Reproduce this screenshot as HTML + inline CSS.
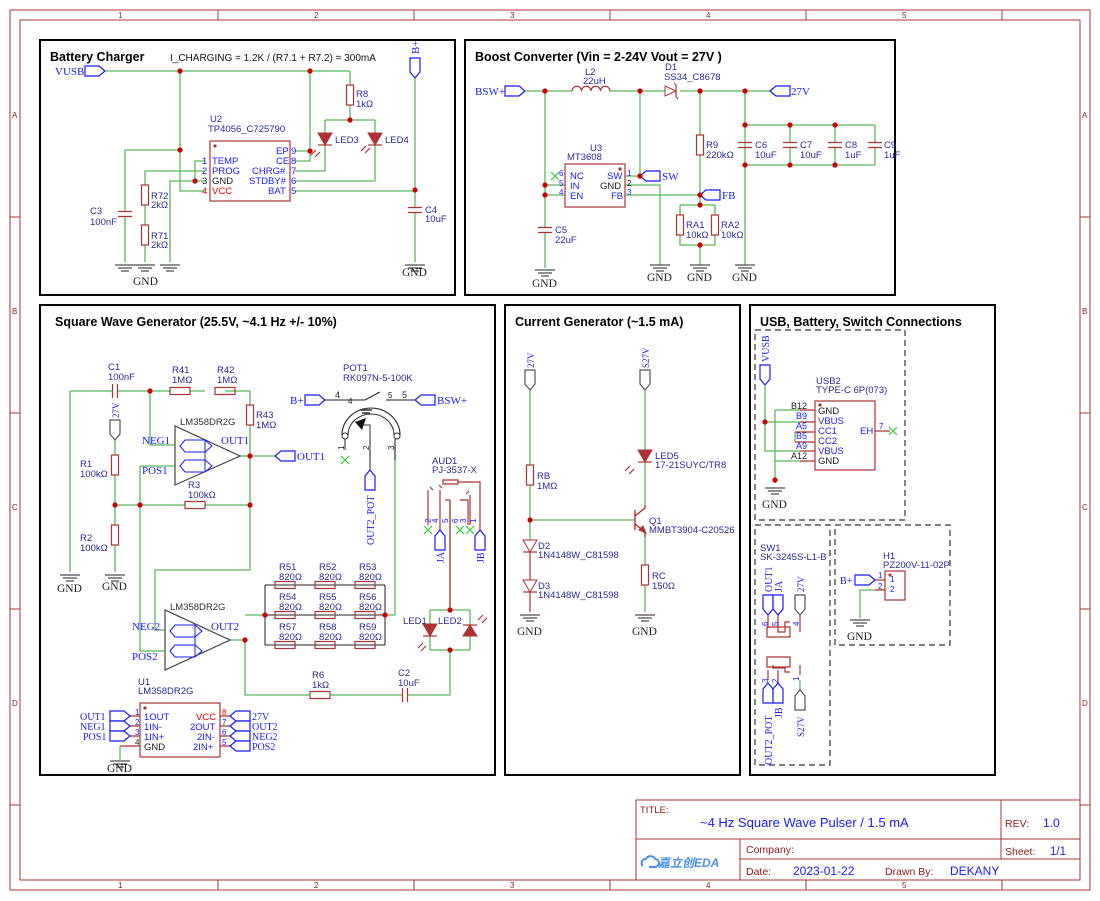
<!DOCTYPE html>
<html><head><meta charset="utf-8"><style>
html,body{margin:0;padding:0;background:#fff}
svg{display:block}
.w{stroke:#5cb85c;stroke-width:1.3;fill:none}
.k{stroke:#222;stroke-width:1;fill:none}
.r{stroke:#a33;stroke-width:1.2;fill:none}
.fr{fill:#a33;stroke:#a33}
.p{stroke:#1a1aff;stroke-width:1.2;fill:#fff}
.pg{stroke:#555;stroke-width:1.2;fill:#fff}
.bx{stroke:#000;stroke-width:2;fill:none}
.ds{stroke:#333;stroke-width:1.2;fill:none;stroke-dasharray:6 4}
text{font-family:"Liberation Sans","Noto Sans CJK SC",sans-serif;font-size:9.5px;fill:#2a2a9a}
.t{font-weight:bold;font-size:12.5px;fill:#000}
.s{font-family:"Liberation Serif",serif;font-size:11px;fill:#1a1aff}
.gn{font-family:"Liberation Serif",serif;font-size:11.5px;fill:#222}
.b{fill:#1a1aff}
.rd{fill:#e00}
.bk{fill:#222}
.fm{fill:#8b1a1a;font-size:8px}
.tb{fill:#8b1a1a;font-size:10px}
</style></head><body>
<svg width="1100" height="901" viewBox="0 0 1100 901" xmlns="http://www.w3.org/2000/svg">
<defs>
<rect id="rv" x="-3.5" y="-10" width="7" height="20" class="r"/>
<rect id="rh" x="-10" y="-3.5" width="20" height="7" class="r"/>
<g id="gd"><path d="M-10 0H10M-7 3H7M-4 6H4" class="k"/></g>
<circle id="j" r="2.6" fill="#c00"/>
<path id="pr" d="M0 -5H14L20 0L14 5H0Z" class="p"/>
<path id="pl" d="M20 -5H6L0 0L6 5H20Z" class="p"/>
<path id="pd" d="M-5 0V14L0 20L5 14V0Z" class="p"/>
<path id="pu" d="M-5 20V6L0 0L5 6V20Z" class="p"/>
<path id="pdg" d="M-5 0V14L0 20L5 14V0Z" class="pg"/>
<path id="pug" d="M-5 20V6L0 0L5 6V20Z" class="pg"/>
<g id="cv"><path d="M-7 -2.5H7M-7 2.5H7" class="r"/></g>
<g id="ch"><path d="M-2.5 -7V7M2.5 -7V7" class="r"/></g>
<g id="dd"><path d="M-7 -6H7L0 6Z" class="fr"/><path d="M-7 6H7" class="r"/></g>
<g id="do"><path d="M-7 -6H7L0 6Z" fill="#fff" stroke="#a33"/><path d="M-7 6H7" class="r"/></g>
<g id="x"><path d="M-4 -4L4 4M-4 4L4 -4" stroke="#3c3" stroke-width="1.2"/></g>
</defs>

<!-- frame -->
<rect x="10" y="10" width="1080" height="880" fill="none" stroke="#a33" stroke-width="1"/>
<rect x="20" y="20" width="1060" height="860" fill="none" stroke="#a33" stroke-width="1"/>
<path d="M218 10V20M414 10V20M610 10V20M806 10V20M1002 10V20M218 880V890M414 880V890M610 880V890M806 880V890M1002 880V890M10 217H20M10 413H20M10 609H20M10 805H20M1080 217H1090M1080 413H1090M1080 609H1090M1080 805H1090" stroke="#a33"/>
<g class="fm" font-size="8">
<text x="118" y="18" class="fm">1</text><text x="314" y="18" class="fm">2</text><text x="510" y="18" class="fm">3</text><text x="706" y="18" class="fm">4</text><text x="902" y="18" class="fm">5</text>
<text x="118" y="888" class="fm">1</text><text x="314" y="888" class="fm">2</text><text x="510" y="888" class="fm">3</text><text x="706" y="888" class="fm">4</text><text x="902" y="888" class="fm">5</text>
<text x="12" y="118" class="fm">A</text><text x="12" y="314" class="fm">B</text><text x="12" y="510" class="fm">C</text><text x="12" y="706" class="fm">D</text>
<text x="1082" y="118" class="fm">A</text><text x="1082" y="314" class="fm">B</text><text x="1082" y="510" class="fm">C</text><text x="1082" y="706" class="fm">D</text>
</g>

<!-- panels -->
<rect x="40" y="40" width="415" height="255" class="bx"/>
<rect x="465" y="40" width="430" height="255" class="bx"/>
<rect x="40" y="305" width="455" height="470" class="bx"/>
<rect x="505" y="305" width="235" height="470" class="bx"/>
<rect x="750" y="305" width="245" height="470" class="bx"/>

<!-- ===== Battery charger ===== -->
<text x="50" y="61" class="t">Battery Charger</text>
<text x="170" y="61" style="font-size:10px;fill:#111">I_CHARGING = 1.2K / (R7.1 + R7.2) = 300mA</text>
<text x="55" y="75" class="s">VUSB</text><use href="#pr" x="85" y="71"/>
<path class="w" d="M105 71H350M180 71V191H205M180 150H125V211M125 217V262M205 171H145V185M145 205V225M145 245V262M205 161H195V181M205 181H170V262M310 71V161H295M295 151H310M295 171H325V145M295 181H375V145M295 191H415M415 78V207M415 213V262M350 71V85M350 105V120M325 120H375M325 120V133M375 120V133"/>
<use href="#rv" x="350" y="95"/><text x="356" y="97">R8</text><text x="356" y="107">1kΩ</text>
<use href="#dd" x="325" y="139"/><use href="#dd" x="375" y="139"/>
<path d="M316 150l-5 5M320 152l-5 5M366 146l-5 5M370 148l-5 5" class="r"/>
<text x="335" y="143">LED3</text><text x="385" y="143">LED4</text>
<rect x="210" y="141" width="80" height="60" class="r"/><circle cx="215" cy="146" r="1.6" fill="#a33"/>
<text x="210" y="122">U2</text><text x="208" y="132">TP4056_C725790</text>
<g class="b"><text x="202" y="164" class="b">1</text><text x="202" y="174" class="b">2</text><text x="212" y="164" class="b">TEMP</text><text x="212" y="174" class="b">PROG</text><text x="212" y="194" class="rd">VCC</text>
<text x="276" y="154" class="b">EP</text><text x="276" y="164" class="b">CE</text><text x="252" y="174" class="b">CHRG#</text><text x="249" y="184" class="b">STDBY#</text><text x="268" y="194" class="b">BAT</text>
<text x="291" y="154" class="b">9</text><text x="291" y="164" class="b">8</text><text x="291" y="174" class="b">7</text><text x="291" y="184" class="b">6</text><text x="291" y="194" class="b">5</text></g>
<text x="202" y="184" class="bk">3</text><text x="212" y="184" class="bk">GND</text><text x="202" y="194" class="rd">4</text>
<use href="#cv" x="125" y="214"/><text x="90" y="214">C3</text><text x="90" y="225">100nF</text>
<use href="#rv" x="145" y="195"/><text x="151" y="199">R72</text><text x="151" y="208">2kΩ</text>
<use href="#rv" x="145" y="235"/><text x="151" y="239">R71</text><text x="151" y="248">2kΩ</text>
<use href="#cv" x="415" y="210"/><text x="425" y="213">C4</text><text x="425" y="222">10uF</text>
<use href="#gd" x="125" y="265"/><use href="#gd" x="145" y="265"/><use href="#gd" x="170" y="265"/><use href="#gd" x="415" y="265"/>
<text x="133" y="285" class="gn">GND</text><text x="402" y="276" class="gn">GND</text>
<use href="#pd" x="415" y="58"/><text transform="translate(419,54) rotate(-90)" class="s">B+</text>
<use href="#j" x="180" y="71"/><use href="#j" x="310" y="71"/><use href="#j" x="350" y="120"/><use href="#j" x="180" y="150"/><use href="#j" x="195" y="181"/><use href="#j" x="310" y="151"/><use href="#j" x="415" y="190"/>

<!-- ===== Boost converter ===== -->
<text x="475" y="61" class="t">Boost Converter (Vin = 2-24V Vout = 27V )</text>
<text x="475" y="95" class="s">BSW+</text><use href="#pr" x="505" y="91"/>
<path class="w" d="M525 91H572M610 91H665M680 91H770M545 91V227M545 233V268M545 185H565M545 195H565M640 91V176H625M625 185H660V265M625 195H700M700 91V135M700 155V205M680 205H715M680 205V215M715 205V215M680 235V245H715V235M700 245V265M745 91V265M745 125H875M745 165H875M745 125V142M745 148V165M790 125V142M790 148V165M835 125V142M835 148V165M875 125V142M875 148V165"/>
<path d="M572 91a4.75 4.75 0 0 1 9.5 0a4.75 4.75 0 0 1 9.5 0a4.75 4.75 0 0 1 9.5 0a4.75 4.75 0 0 1 9.5 0" class="r"/>
<text x="585" y="75">L2</text><text x="583" y="84">22uH</text>
<path d="M665 86V96L676 91Z" fill="#fff" stroke="#a33"/><path d="M676 85V97M676 85l-2 -2M676 97l2 2" class="r"/>
<text x="665" y="70">D1</text><text x="664" y="80">SS34_C8678</text>
<use href="#pl" x="770" y="91"/><text x="791" y="95" class="s">27V</text>
<rect x="565" y="164" width="60" height="43" class="r"/><circle cx="620" cy="169" r="1.6" fill="#a33"/>
<text x="590" y="151">U3</text><text x="567" y="160">MT3608</text>
<text x="570" y="179" class="b">NC</text><text x="570" y="189" class="b">IN</text><text x="570" y="199" class="b">EN</text>
<text x="607" y="179" class="b">SW</text><text x="600" y="189" class="bk">GND</text><text x="611" y="199" class="b">FB</text>
<text x="559" y="176" class="b" style="font-size:8px">6</text><text x="559" y="186" class="b" style="font-size:8px">5</text><text x="559" y="195" class="b" style="font-size:8px">4</text>
<text x="627" y="176" class="b" style="font-size:8px">1</text><text x="627" y="186" class="bk" style="font-size:8px">2</text><text x="627" y="195" class="b" style="font-size:8px">3</text>
<use href="#x" x="555" y="176"/>
<use href="#pl" x="640" y="176"/><text x="662" y="180" class="s">SW</text>
<use href="#pl" x="700" y="195"/><text x="722" y="199" class="s">FB</text>
<use href="#cv" x="545" y="230"/><text x="555" y="233">C5</text><text x="555" y="243">22uF</text>
<use href="#rv" x="700" y="145"/><text x="706" y="148">R9</text><text x="706" y="158">220kΩ</text>
<use href="#rv" x="680" y="225"/><text x="686" y="228">RA1</text><text x="686" y="238">10kΩ</text>
<use href="#rv" x="715" y="225"/><text x="721" y="228">RA2</text><text x="721" y="238">10kΩ</text>
<use href="#cv" x="745" y="145"/><use href="#cv" x="790" y="145"/><use href="#cv" x="835" y="145"/><use href="#cv" x="875" y="145"/>
<text x="755" y="148">C6</text><text x="755" y="158">10uF</text><text x="800" y="148">C7</text><text x="800" y="158">10uF</text><text x="845" y="148">C8</text><text x="845" y="158">1uF</text><text x="884" y="148">C9</text><text x="884" y="158">1uF</text>
<use href="#gd" x="545" y="270"/><use href="#gd" x="660" y="265"/><use href="#gd" x="700" y="265"/><use href="#gd" x="745" y="265"/>
<text x="532" y="287" class="gn">GND</text><text x="647" y="281" class="gn">GND</text><text x="687" y="281" class="gn">GND</text><text x="732" y="281" class="gn">GND</text>
<use href="#j" x="545" y="91"/><use href="#j" x="640" y="91"/><use href="#j" x="700" y="91"/><use href="#j" x="745" y="91"/><use href="#j" x="545" y="185"/><use href="#j" x="545" y="195"/><use href="#j" x="640" y="176"/><use href="#j" x="700" y="195"/><use href="#j" x="700" y="205"/><use href="#j" x="700" y="245"/><use href="#j" x="745" y="125"/><use href="#j" x="790" y="125"/><use href="#j" x="835" y="125"/><use href="#j" x="745" y="165"/><use href="#j" x="790" y="165"/><use href="#j" x="835" y="165"/>

<!-- ===== Square wave ===== -->
<text x="55" y="326" class="t">Square Wave Generator (25.5V, ~4.1 Hz +/- 10%)</text>
<path class="w" d="M70 391V572M70 391H113M117 391H170M190 391H205M225 391H250V405M250 425V570H155V630H165M240 456H275M150 391V445H175M140 466H175M140 466V651H165M115 440V455M115 475V525M115 545V572M115 505H185M205 505H250M230 640H245V695H310M330 695H403M407 695H450V650M245 615H265M385 615H395V445M450 610V500"/>
<path class="k" d="M265 585H385M265 615H385M265 645H385M265 585V645M385 585V645"/>
<use href="#ch" x="115" y="391"/><text x="108" y="370">C1</text><text x="108" y="380">100nF</text>
<use href="#rh" x="180" y="391"/><text x="172" y="373">R41</text><text x="172" y="383">1MΩ</text>
<use href="#rh" x="225" y="391"/><text x="217" y="373">R42</text><text x="217" y="383">1MΩ</text>
<use href="#rv" x="250" y="415"/><text x="256" y="418">R43</text><text x="256" y="428">1MΩ</text>
<use href="#pdg" x="115" y="420"/><text transform="translate(119,418) rotate(-90)" class="s" style="font-size:9px">27V</text>
<use href="#rv" x="115" y="465"/><text x="80" y="467">R1</text><text x="80" y="477">100kΩ</text>
<use href="#rv" x="115" y="535"/><text x="80" y="541">R2</text><text x="80" y="551">100kΩ</text>
<use href="#rh" x="195" y="505"/><text x="188" y="488">R3</text><text x="188" y="498">100kΩ</text>
<use href="#gd" x="70" y="575"/><use href="#gd" x="115" y="575"/>
<text x="57" y="592" class="gn">GND</text><text x="102" y="590" class="gn">GND</text>
<path d="M175 426V485L240 456Z" fill="none" stroke="#444" stroke-width="1.2"/>
<path d="M185 440H205L212 446L205 452H185L180 446ZM185 460H205L212 466L205 472H185L180 466ZM205 440V472" fill="none" stroke="#1a1aff" stroke-width="1"/>
<text x="180" y="425" style="font-size:9.5px;fill:#333">LM358DR2G</text>
<text x="142" y="444" class="s">NEG1</text><text x="142" y="474" class="s">POS1</text><text x="221" y="444" class="s">OUT1</text>
<use href="#pl" x="275" y="456"/><text x="297" y="460" class="s">OUT1</text>
<path d="M165 610V670L230 640Z" fill="none" stroke="#444" stroke-width="1.2"/>
<path d="M175 625H195L202 631L195 637H175L170 631ZM175 645H195L202 651L195 657H175L170 651ZM195 625V657" fill="none" stroke="#1a1aff" stroke-width="1"/>
<text x="170" y="610" style="font-size:9.5px;fill:#333">LM358DR2G</text>
<text x="132" y="630" class="s">NEG2</text><text x="132" y="660" class="s">POS2</text><text x="211" y="630" class="s">OUT2</text>
<g>
<use href="#rh" x="285" y="585"/><use href="#rh" x="325" y="585"/><use href="#rh" x="365" y="585"/>
<use href="#rh" x="285" y="615"/><use href="#rh" x="325" y="615"/><use href="#rh" x="365" y="615"/>
<use href="#rh" x="285" y="645"/><use href="#rh" x="325" y="645"/><use href="#rh" x="365" y="645"/>
<text x="279" y="570">R51</text><text x="279" y="580">820Ω</text><text x="319" y="570">R52</text><text x="319" y="580">820Ω</text><text x="359" y="570">R53</text><text x="359" y="580">820Ω</text>
<text x="279" y="600">R54</text><text x="279" y="610">820Ω</text><text x="319" y="600">R55</text><text x="319" y="610">820Ω</text><text x="359" y="600">R56</text><text x="359" y="610">820Ω</text>
<text x="279" y="630">R57</text><text x="279" y="640">820Ω</text><text x="319" y="630">R58</text><text x="319" y="640">820Ω</text><text x="359" y="630">R59</text><text x="359" y="640">820Ω</text>
</g>
<use href="#rh" x="320" y="695"/><text x="312" y="678">R6</text><text x="312" y="688">1kΩ</text>
<use href="#ch" x="405" y="695"/><text x="398" y="676">C2</text><text x="398" y="686">10uF</text>
<path class="w" d="M430 610H470M430 650H470M430 610V625M430 636V650M470 610V625M470 636V650"/>
<use href="#dd" x="430" y="630"/>
<path d="M463 636H477L470 625Z" class="fr"/><path d="M463 625H477" class="r"/>
<path d="M423 643l-5 5M426 646l-5 5M478 620l5 -5M482 623l5 -5" class="r"/>
<text x="403" y="624">LED1</text><text x="438" y="624">LED2</text>
<!-- pot -->
<text x="343" y="371">POT1</text><text x="343" y="381">RK097N-5-100K</text>
<text x="290" y="404" class="s">B+</text><use href="#pr" x="305" y="400"/>
<path d="M325 400H365L380 392M386 400H415" class="k"/>
<text x="335" y="398" class="bk" style="font-size:9px">4</text><text x="348" y="404" class="bk" style="font-size:8px">4</text><text x="388" y="398" class="bk" style="font-size:8px">5</text><text x="402" y="398" class="bk" style="font-size:9px">5</text>
<use href="#pl" x="415" y="400"/><text x="437" y="404" class="s">BSW+</text>
<path d="M342 435A28 26 0 0 1 400 435" fill="none" stroke="#333" stroke-width="1.2"/>
<path d="M348 435A23 21 0 0 1 394 435" fill="none" stroke="#333" stroke-width="1"/>
<circle cx="345" cy="436" r="3" fill="none" stroke="#333"/><circle cx="397" cy="436" r="3" fill="none" stroke="#333"/>
<path d="M360 410h12M362 413h8" stroke="#333" stroke-width="1.5"/>
<path d="M370 440V425L358 425" stroke="#333" fill="none"/><path d="M355 422L366 418L362 430Z" fill="#111"/>
<path d="M345 439V450M395 439V460" class="k"/><path d="M370 440V470" class="k"/>
<text transform="translate(344,450) rotate(-90)" class="bk" style="font-size:8px">1</text><text transform="translate(369,450) rotate(-90)" class="bk" style="font-size:8px">2</text><text transform="translate(394,450) rotate(-90)" class="bk" style="font-size:8px">3</text>
<use href="#x" x="345" y="460"/>
<use href="#pu" x="370" y="470"/><text transform="translate(374,545) rotate(-90)" class="s" style="font-size:10px">OUT2_POT</text>
<!-- jack -->
<text x="432" y="464">AUD1</text><text x="432" y="473">PJ-3537-X</text>
<path d="M443 480H458V484H443ZM458 482H480V530M428 490V525M440 490V530M445 500H450V500M450 500V610M460 500H468V525M470 495V525M433 490l-3 -3M442 488l-3 -3M466 494l3 -3" class="r" fill="none"/>
<text transform="translate(431,523) rotate(-90)" class="b" style="font-size:8px">2</text><text transform="translate(438,523) rotate(-90)" class="b" style="font-size:8px">4</text><text transform="translate(448,523) rotate(-90)" class="b" style="font-size:8px">5</text><text transform="translate(458,523) rotate(-90)" class="b" style="font-size:8px">6</text><text transform="translate(466,523) rotate(-90)" class="b" style="font-size:8px">3</text><text transform="translate(476,523) rotate(-90)" class="b" style="font-size:8px">1</text>
<use href="#x" x="428" y="530"/><use href="#x" x="460" y="530"/><use href="#x" x="470" y="530"/>
<use href="#pu" x="440" y="530"/><use href="#pu" x="480" y="530"/>
<text transform="translate(444,563) rotate(-90)" class="s" style="font-size:10px">JA</text><text transform="translate(484,563) rotate(-90)" class="s" style="font-size:10px">JB</text>
<!-- U1 -->
<text x="138" y="685">U1</text><text x="138" y="694">LM358DR2G</text>
<rect x="140" y="703" width="80" height="54" class="r"/><circle cx="145" cy="708" r="1.6" fill="#a33"/>
<path d="M130 716H140M130 726H140M130 736H140M120 746H140M220 716H230M220 726H230M220 736H230M220 746H230" class="r"/>
<path d="M120 746V760" class="w"/><use href="#gd" x="120" y="761"/><text x="107" y="772" class="gn">GND</text>
<use href="#pr" x="110" y="716"/><use href="#pr" x="110" y="726"/><use href="#pr" x="110" y="736"/>
<use href="#pl" x="230" y="716"/><use href="#pl" x="230" y="726"/><use href="#pl" x="230" y="736"/><use href="#pl" x="230" y="746"/>
<text x="80" y="720" class="s" style="font-size:10px">OUT1</text><text x="80" y="730" class="s" style="font-size:10px">NEG1</text><text x="83" y="740" class="s" style="font-size:10px">POS1</text>
<text x="252" y="720" class="s" style="font-size:10px">27V</text><text x="252" y="730" class="s" style="font-size:10px">OUT2</text><text x="252" y="740" class="s" style="font-size:10px">NEG2</text><text x="252" y="750" class="s" style="font-size:10px">POS2</text>
<text x="135" y="715" class="b" style="font-size:8px">1</text><text x="135" y="725" class="b" style="font-size:8px">2</text><text x="135" y="735" class="b" style="font-size:8px">3</text><text x="135" y="745" class="bk" style="font-size:8px">4</text>
<text x="222" y="715" class="rd" style="font-size:8px">8</text><text x="222" y="725" class="b" style="font-size:8px">7</text><text x="222" y="735" class="b" style="font-size:8px">6</text><text x="222" y="745" class="b" style="font-size:8px">5</text>
<text x="144" y="720" class="b">1OUT</text><text x="144" y="730" class="b">1IN-</text><text x="144" y="740" class="b">1IN+</text><text x="144" y="750" class="bk">GND</text>
<text x="196" y="720" class="rd">VCC</text><text x="190" y="730" class="b">2OUT</text><text x="197" y="740" class="b">2IN-</text><text x="193" y="750" class="b">2IN+</text>
<use href="#j" x="150" y="391"/><use href="#j" x="250" y="456"/><use href="#j" x="115" y="505"/><use href="#j" x="140" y="505"/><use href="#j" x="250" y="505"/><use href="#j" x="245" y="640"/><use href="#j" x="265" y="615"/><use href="#j" x="385" y="615"/><use href="#j" x="450" y="610"/><use href="#j" x="450" y="650"/>

<!-- ===== Current generator ===== -->
<text x="515" y="326" class="t">Current Generator (~1.5 mA)</text>
<use href="#pdg" x="530" y="370"/><text transform="translate(534,368) rotate(-90)" class="s" style="font-size:9px">27V</text>
<use href="#pdg" x="645" y="370"/><text transform="translate(649,368) rotate(-90)" class="s" style="font-size:9px">S27V</text>
<path class="w" d="M530 390V465M530 485V540M530 520H635M645 390V450M645 461V505M645 537V565M645 585V612"/>
<path class="r" d="M530 551V580M530 591V612"/>
<use href="#rv" x="530" y="475"/><text x="537" y="479">RB</text><text x="537" y="489">1MΩ</text>
<use href="#do" x="530" y="546"/><text x="538" y="549">D2</text><text x="538" y="558">1N4148W_C81598</text>
<use href="#do" x="530" y="586"/><text x="538" y="589">D3</text><text x="538" y="598">1N4148W_C81598</text>
<use href="#dd" x="645" y="456"/><path d="M630 466l-5 5M634 469l-5 5" class="r"/>
<text x="655" y="459">LED5</text><text x="655" y="468">17-21SUYC/TR8</text>
<path d="M635 510V530M635 516L645 508V505M635 524L645 532V537" stroke="#a33" stroke-width="1.4" fill="none"/><path d="M646 533L639 530L643 526Z" class="fr"/>
<text x="649" y="524">Q1</text><text x="649" y="533">MMBT3904-C20526</text>
<use href="#rv" x="645" y="575"/><text x="652" y="579">RC</text><text x="652" y="589">150Ω</text>
<use href="#gd" x="530" y="615"/><use href="#gd" x="645" y="615"/>
<text x="517" y="635" class="gn">GND</text><text x="632" y="635" class="gn">GND</text>
<use href="#j" x="530" y="520"/>

<!-- ===== USB panel ===== -->
<text x="760" y="326" class="t">USB, Battery, Switch Connections</text>
<rect x="755" y="330" width="150" height="190" class="ds"/>
<rect x="755" y="525" width="75" height="240" class="ds"/>
<rect x="835" y="525" width="115" height="120" class="ds"/>
<use href="#pd" x="765" y="365"/><text transform="translate(769,362) rotate(-90)" class="s" style="font-size:10px">VUSB</text>
<text x="816" y="384">USB2</text><text x="816" y="393">TYPE-C 6P(073)</text>
<rect x="815" y="401" width="60" height="69" class="r"/><circle cx="820" cy="405" r="1.6" fill="#a33"/>
<path class="w" d="M765 385V451H800M765 422H800M775 410H800M775 410V483M775 461H800M795 432V442"/>
<path class="r" d="M800 410H815M800 422H815M795 432H815M795 442H815M800 451H815M800 461H815M875 431H890"/>
<use href="#x" x="893" y="431"/>
<text x="791" y="409" class="bk" style="font-size:9px">B12</text><text x="796" y="419" class="b" style="font-size:9px">B9</text><text x="796" y="429" class="b" style="font-size:9px">A5</text><text x="796" y="439" class="b" style="font-size:9px">B5</text><text x="796" y="449" class="b" style="font-size:9px">A9</text><text x="791" y="459" class="bk" style="font-size:9px">A12</text>
<text x="818" y="414" class="bk">GND</text><text x="818" y="424" class="b">VBUS</text><text x="818" y="434" class="b">CC1</text><text x="818" y="444" class="b">CC2</text><text x="818" y="454" class="b">VBUS</text><text x="818" y="464" class="bk">GND</text>
<text x="860" y="434" class="b">EH</text><text x="879" y="429" class="b" style="font-size:8px">7</text>
<use href="#gd" x="775" y="488"/><text x="762" y="508" class="gn">GND</text>
<use href="#j" x="765" y="422"/><use href="#j" x="775" y="480"/>
<text x="760" y="551">SW1</text><text x="760" y="560">SK-3245S-L1-B</text>
<use href="#pd" x="768" y="595"/><use href="#pd" x="778" y="595"/><use href="#pdg" x="800" y="595"/>
<text transform="translate(772,592) rotate(-90)" class="s" style="font-size:10px">OUT1</text><text transform="translate(782,592) rotate(-90)" class="s" style="font-size:10px">JA</text><text transform="translate(804,592) rotate(-90)" class="s" style="font-size:9px">27V</text>
<path class="r" d="M768 615V628M778 615V625M800 615V632M767 627H790V637H767ZM778 625V632H785V622H790M767 657H790V667H767ZM773 665V668H785V672H790M768 670V680M778 670V683M800 665V675"/>
<text transform="translate(768,626) rotate(-90)" class="b" style="font-size:8px">6</text><text transform="translate(778,626) rotate(-90)" class="b" style="font-size:8px">5</text><text transform="translate(799,626) rotate(-90)" class="b" style="font-size:8px">4</text>
<text transform="translate(768,683) rotate(-90)" class="b" style="font-size:8px">3</text><text transform="translate(778,683) rotate(-90)" class="b" style="font-size:8px">2</text><text transform="translate(799,681) rotate(-90)" class="b" style="font-size:8px">1</text>
<path class="w" d="M800 680V690"/>
<use href="#pu" x="768" y="683"/><use href="#pu" x="778" y="683"/><use href="#pug" x="800" y="690"/>
<text transform="translate(772,765) rotate(-90)" class="s" style="font-size:10px">OUT2_POT</text><text transform="translate(782,718) rotate(-90)" class="s" style="font-size:10px">JB</text><text transform="translate(804,737) rotate(-90)" class="s" style="font-size:9px">S27V</text>
<text x="883" y="559">H1</text><text x="883" y="568">PZ200V-11-02P</text>
<rect x="885" y="571" width="20" height="29" class="r"/><circle cx="890" cy="575" r="1.6" fill="#a33"/>
<text x="840" y="584" class="s" style="font-size:10px">B+</text><use href="#pr" x="855" y="580"/>
<path class="r" d="M875 580H885M875 590H885"/><path class="w" d="M875 590H860V618"/>
<text x="878" y="578" class="b" style="font-size:8px">1</text><text x="878" y="589" class="b" style="font-size:8px">2</text><text x="890" y="582" class="b" style="font-size:8.5px">1</text><text x="890" y="592" class="b" style="font-size:8.5px">2</text>
<use href="#gd" x="860" y="620"/><text x="847" y="640" class="gn">GND</text>

<!-- ===== Title block ===== -->
<rect x="636" y="800" width="444" height="80" fill="none" stroke="#a33"/>
<path d="M636 839H1080M740 859H1080M740 839V880M1001 800V859M1080 800V880" stroke="#a33" fill="none"/>
<text x="640" y="813" class="tb" style="font-size:9.5px">TITLE:</text>
<text x="700" y="827" style="font-size:13px;fill:#1a1aff">~4 Hz Square Wave Pulser / 1.5 mA</text>
<text x="1005" y="827" class="tb" style="font-size:10.5px">REV:</text><text x="1043" y="827" style="font-size:12px;fill:#1a1aff">1.0</text>
<text x="746" y="853" class="tb" style="font-size:10.5px">Company:</text>
<text x="1005" y="855" class="tb" style="font-size:10.5px">Sheet:</text><text x="1050" y="855" style="font-size:11.5px;fill:#1a1aff">1/1</text>
<text x="746" y="875" class="tb" style="font-size:10.5px">Date:</text><text x="793" y="875" style="font-size:12px;fill:#1a1aff">2023-01-22</text>
<text x="885" y="875" class="tb" style="font-size:10.5px">Drawn By:</text><text x="950" y="875" style="font-size:12px;fill:#1a1aff">DEKANY</text>
<path d="M643 866a4 4 0 0 1 3 -7a5 5 0 0 1 9 0a4 4 0 0 1 0 8h-6" fill="none" stroke="#4a8fe8" stroke-width="2"/>
<text x="658" y="867" style="font-size:12px;font-weight:bold;fill:#4a8fe8;font-style:italic;font-family:'Liberation Sans','Noto Sans CJK SC',sans-serif">嘉立创EDA</text>
</svg>
</body></html>
